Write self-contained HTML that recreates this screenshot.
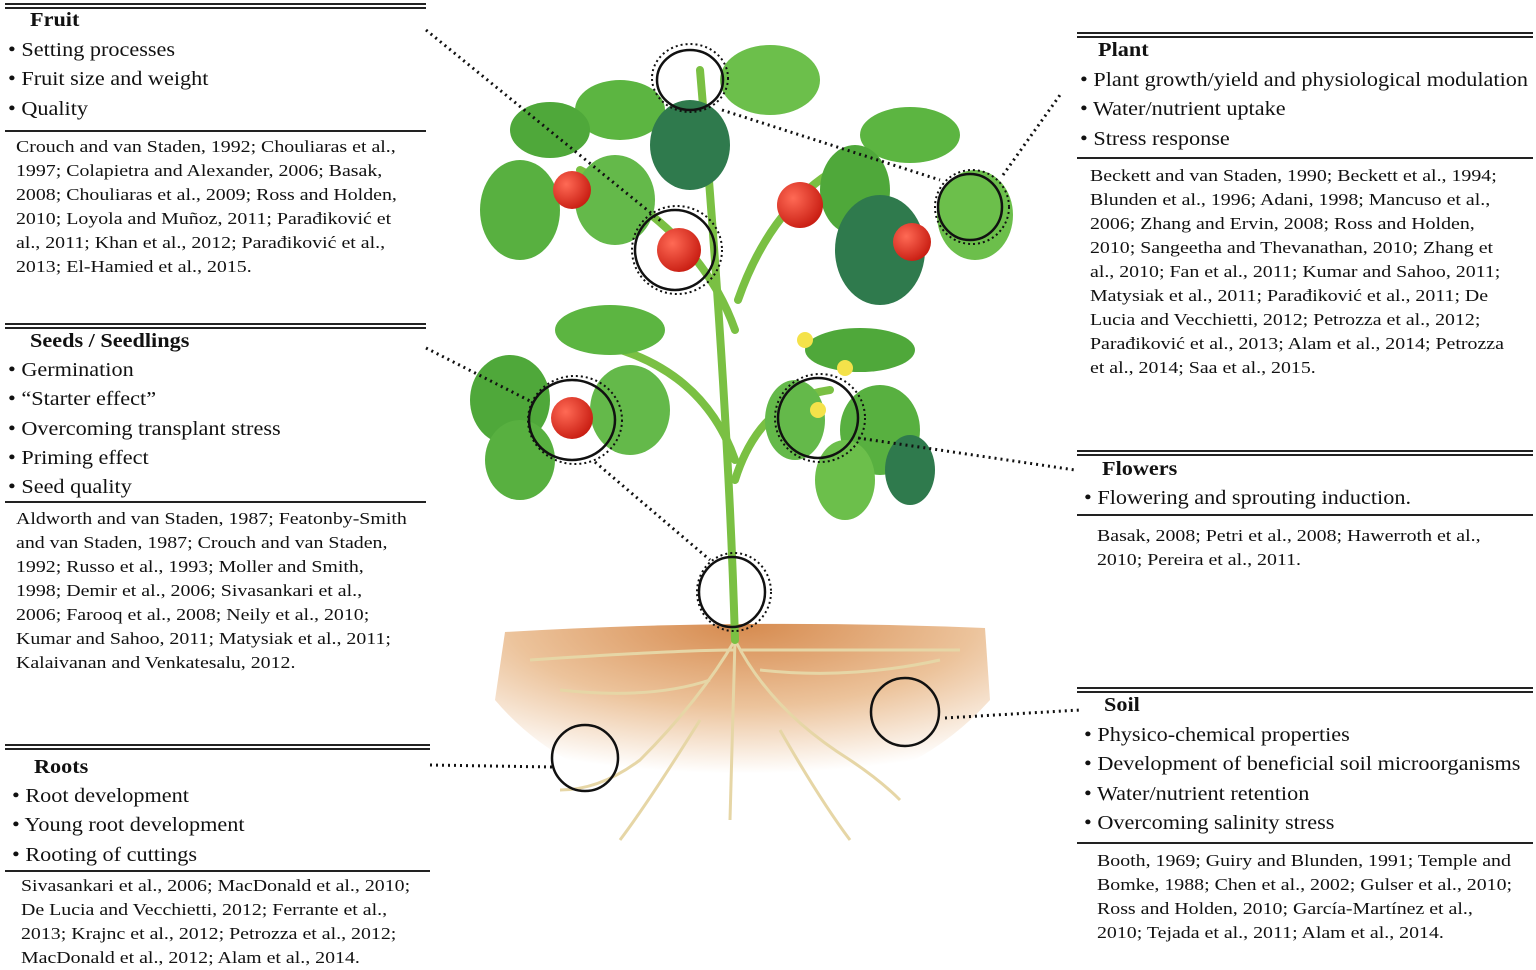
<!DOCTYPE html>
<html><head><meta charset="utf-8"><style>
body{margin:0;width:1536px;height:969px;background:#fff;position:relative;overflow:hidden;font-family:"Liberation Serif",serif;color:#111}
.t{position:absolute;white-space:nowrap;font-size:19.5px;line-height:29.3px;transform:scaleX(1.14);transform-origin:0 0}
.h{font-weight:bold}
.r{position:absolute;white-space:nowrap;font-size:17.3px;line-height:24px;transform:scaleX(1.15);transform-origin:0 0}
.d{position:absolute;border-top:2.5px solid #222;border-bottom:2.5px solid #222;height:2px}
.s{position:absolute;border-top:2.5px solid #222}
svg{position:absolute;left:0;top:0}
</style></head><body>
<svg width="1536" height="969">
<defs>
<radialGradient id="soil" cx="50%" cy="0%" r="85%"><stop offset="0" stop-color="#d68a4e"/><stop offset="0.55" stop-color="#ecc39b"/><stop offset="1" stop-color="#fff"/></radialGradient>
<radialGradient id="tom" cx="35%" cy="35%" r="70%"><stop offset="0" stop-color="#ff6a55"/><stop offset="1" stop-color="#c81d12"/></radialGradient>
</defs>
<path d="M505 632 Q740 618 985 628 L990 700 Q900 800 740 800 Q580 800 495 700 Z" fill="url(#soil)"/>
<g stroke="#e6d6a6" stroke-width="3" fill="none">
<path d="M735 640 Q700 700 640 760 Q600 790 560 790"/><path d="M735 640 Q770 710 850 760 Q880 780 900 800"/>
<path d="M735 640 L730 820"/><path d="M710 680 Q650 700 560 690"/><path d="M760 670 Q850 680 940 660"/>
<path d="M700 720 Q650 800 620 840"/><path d="M780 730 Q820 800 850 840"/><path d="M735 650 Q680 650 530 660"/><path d="M740 650 Q820 650 960 650"/>
</g>
<g stroke="#7ac043" stroke-width="8" fill="none" stroke-linecap="round">
<path d="M735 640 Q728 400 700 70"/><path d="M735 330 Q700 230 580 170"/><path d="M738 300 Q780 180 880 150"/>
<path d="M735 460 Q700 360 580 340"/><path d="M735 480 Q760 400 830 390"/>
</g>
<g fill="#4fa83a">
<ellipse cx="620" cy="110" rx="45" ry="30" fill="#5cb541"/><ellipse cx="770" cy="80" rx="50" ry="35" fill="#6cbf4b"/>
<ellipse cx="690" cy="145" rx="40" ry="45" fill="#2f7a4d"/><ellipse cx="550" cy="130" rx="40" ry="28"/>
<ellipse cx="520" cy="210" rx="40" ry="50" fill="#58b040"/><ellipse cx="615" cy="200" rx="40" ry="45" fill="#64b94a"/>
<ellipse cx="910" cy="135" rx="50" ry="28" fill="#5cb541"/><ellipse cx="855" cy="190" rx="35" ry="45"/>
<ellipse cx="880" cy="250" rx="45" ry="55" fill="#2f7a4d"/><ellipse cx="975" cy="215" rx="38" ry="45" fill="#6cbf4b"/>
<ellipse cx="610" cy="330" rx="55" ry="25" fill="#5cb541"/><ellipse cx="510" cy="400" rx="40" ry="45"/>
<ellipse cx="630" cy="410" rx="40" ry="45" fill="#64b94a"/><ellipse cx="520" cy="460" rx="35" ry="40" fill="#58b040"/>
<ellipse cx="860" cy="350" rx="55" ry="22" fill="#4fa83a"/><ellipse cx="795" cy="420" rx="30" ry="40" fill="#64b94a"/>
<ellipse cx="880" cy="430" rx="40" ry="45" fill="#58b040"/><ellipse cx="910" cy="470" rx="25" ry="35" fill="#2f7a4d"/>
<ellipse cx="845" cy="480" rx="30" ry="40" fill="#6cbf4b"/>
</g>
<g fill="url(#tom)"><circle cx="572" cy="190" r="19"/><circle cx="679" cy="250" r="22"/><circle cx="800" cy="205" r="23"/><circle cx="912" cy="242" r="19"/><circle cx="572" cy="418" r="21"/></g>
<g fill="#f4e24a"><circle cx="805" cy="340" r="8"/><circle cx="845" cy="368" r="8"/><circle cx="818" cy="410" r="8"/></g>
<g fill="none" stroke="#111">
<g stroke-width="2.5"><ellipse cx="690" cy="80" rx="33" ry="30"/><ellipse cx="675" cy="250" rx="40" ry="40"/><ellipse cx="970" cy="207" rx="32" ry="33"/><ellipse cx="572" cy="420" rx="43" ry="40"/><ellipse cx="818" cy="418" rx="40" ry="40"/><ellipse cx="732" cy="592" rx="33" ry="35"/><ellipse cx="905" cy="712" rx="34" ry="34"/><ellipse cx="585" cy="758" rx="33" ry="33"/></g>
<g stroke-width="2" stroke-dasharray="2 3"><ellipse cx="690" cy="78" rx="38" ry="34"/><ellipse cx="677" cy="250" rx="45" ry="44"/><ellipse cx="972" cy="207" rx="37" ry="37"/><ellipse cx="575" cy="420" rx="47" ry="44"/><ellipse cx="820" cy="418" rx="45" ry="44"/><ellipse cx="734" cy="592" rx="37" ry="39"/></g>
<g stroke-width="3" stroke-dasharray="2 4">
<path d="M426 30 L662 222"/><path d="M722 110 L940 180"/><path d="M1003 175 L1060 95"/>
<path d="M426 348 L532 402"/><path d="M595 462 L710 560"/><path d="M858 438 L1075 470"/>
<path d="M945 718 L1080 710"/><path d="M430 765 L552 767"/>
</g></g>
</svg>

<div class="d" style="left:5px;top:3px;width:421px"></div>
<div class="t h" style="left:30px;top:6px">Fruit</div>
<div class="t" style="left:8px;top:36px">• Setting processes<br>• Fruit size and weight<br>• Quality</div>
<div class="s" style="left:5px;top:130px;width:421px"></div>
<div class="r" style="left:16px;top:135px">Crouch and van Staden, 1992; Chouliaras et al.,<br>1997; Colapietra and Alexander, 2006; Basak,<br>2008; Chouliaras et al., 2009; Ross and Holden,<br>2010; Loyola and Muñoz, 2011; Parađiković et<br>al., 2011; Khan et al., 2012; Parađiković et al.,<br>2013; El-Hamied et al., 2015.</div>

<div class="d" style="left:5px;top:323px;width:421px"></div>
<div class="t h" style="left:30px;top:327px">Seeds / Seedlings</div>
<div class="t" style="left:8px;top:356px">• Germination<br>• “Starter effect”<br>• Overcoming transplant stress<br>• Priming effect<br>• Seed quality</div>
<div class="s" style="left:5px;top:501px;width:421px"></div>
<div class="r" style="left:16px;top:507px">Aldworth and van Staden, 1987; Featonby-Smith<br>and van Staden, 1987; Crouch and van Staden,<br>1992; Russo et al., 1993; Moller and Smith,<br>1998; Demir et al., 2006; Sivasankari et al.,<br>2006; Farooq et al., 2008; Neily et al., 2010;<br>Kumar and Sahoo, 2011; Matysiak et al., 2011;<br>Kalaivanan and Venkatesalu, 2012.</div>

<div class="d" style="left:5px;top:744px;width:425px"></div>
<div class="t h" style="left:34px;top:753px">Roots</div>
<div class="t" style="left:12px;top:782px">• Root development<br>• Young root development<br>• Rooting of cuttings</div>
<div class="s" style="left:5px;top:870px;width:425px"></div>
<div class="r" style="left:21px;top:874px">Sivasankari et al., 2006; MacDonald et al., 2010;<br>De Lucia and Vecchietti, 2012; Ferrante et al.,<br>2013; Krajnc et al., 2012; Petrozza  et al.,  2012;<br>MacDonald et al., 2012; Alam et al., 2014.</div>

<div class="d" style="left:1077px;top:32px;width:456px"></div>
<div class="t h" style="left:1098px;top:36px">Plant</div>
<div class="t" style="left:1080px;top:66px">• Plant growth/yield and physiological modulation<br>• Water/nutrient uptake<br>• Stress response</div>
<div class="s" style="left:1077px;top:157px;width:456px"></div>
<div class="r" style="left:1090px;top:164px">Beckett and van Staden, 1990; Beckett et al., 1994;<br>Blunden et al., 1996; Adani, 1998; Mancuso et al.,<br>2006; Zhang and Ervin, 2008; Ross and Holden,<br>2010; Sangeetha and Thevanathan, 2010; Zhang et<br>al., 2010; Fan et al., 2011; Kumar and Sahoo, 2011;<br>Matysiak et al., 2011; Parađiković et al., 2011; De<br>Lucia and Vecchietti, 2012; Petrozza  et al.,  2012;<br>Parađiković et al., 2013; Alam et al., 2014; Petrozza<br>et al., 2014; Saa et al., 2015.</div>

<div class="d" style="left:1077px;top:450px;width:456px"></div>
<div class="t h" style="left:1102px;top:455px">Flowers</div>
<div class="t" style="left:1084px;top:484px">• Flowering and sprouting induction.</div>
<div class="s" style="left:1077px;top:514px;width:456px"></div>
<div class="r" style="left:1097px;top:524px">Basak, 2008; Petri et al., 2008; Hawerroth et al.,<br>2010; Pereira et al., 2011.</div>

<div class="d" style="left:1077px;top:687px;width:456px"></div>
<div class="t h" style="left:1104px;top:691px">Soil</div>
<div class="t" style="left:1084px;top:721px">• Physico-chemical properties<br>• Development of beneficial soil microorganisms<br>• Water/nutrient retention<br>• Overcoming salinity stress</div>
<div class="s" style="left:1077px;top:842px;width:456px"></div>
<div class="r" style="left:1097px;top:849px">Booth, 1969; Guiry and Blunden, 1991; Temple and<br>Bomke, 1988; Chen et al., 2002; Gulser et al., 2010;<br>Ross and Holden, 2010; García-Martínez et al.,<br>2010; Tejada et al., 2011; Alam et al., 2014.</div>
</body></html>
